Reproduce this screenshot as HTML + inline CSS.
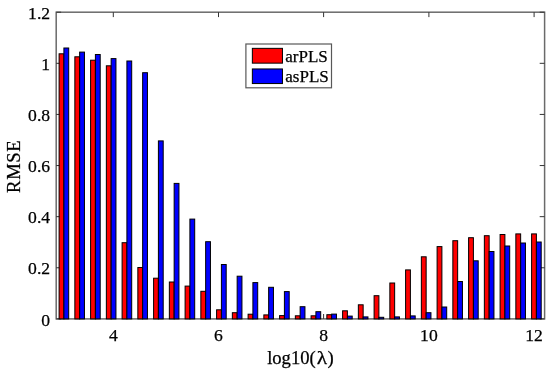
<!DOCTYPE html>
<html><head><meta charset="utf-8"><title>RMSE</title>
<style>html,body{margin:0;padding:0;background:#fff}svg{display:block}text{font-family:"Liberation Serif",serif;fill:#000;stroke:#000;stroke-width:0.25px}</style></head>
<body>
<svg width="550" height="372" viewBox="0 0 550 372">
<rect width="550" height="372" fill="#fff"/>
<g stroke="#6a6a6a" stroke-width="1.5" fill="none">
<rect x="56.2" y="12.2" width="488.4" height="306.7"/>
<path stroke="#333" stroke-width="1" d="M113.3 318.9v-4.9M113.3 12.2v4.9"/>
<path stroke="#333" stroke-width="1" d="M218.5 318.9v-4.9M218.5 12.2v4.9"/>
<path stroke="#333" stroke-width="1" d="M323.6 318.9v-4.9M323.6 12.2v4.9"/>
<path stroke="#333" stroke-width="1" d="M428.9 318.9v-4.9M428.9 12.2v4.9"/>
<path stroke="#333" stroke-width="1" d="M534.1 318.9v-4.9M534.1 12.2v4.9"/>
<path stroke="#333" stroke-width="1" d="M56.2 318.90h4.9M544.6 318.90h-4.9"/>
<path stroke="#333" stroke-width="1" d="M56.2 267.78h4.9M544.6 267.78h-4.9"/>
<path stroke="#333" stroke-width="1" d="M56.2 216.67h4.9M544.6 216.67h-4.9"/>
<path stroke="#333" stroke-width="1" d="M56.2 165.55h4.9M544.6 165.55h-4.9"/>
<path stroke="#333" stroke-width="1" d="M56.2 114.43h4.9M544.6 114.43h-4.9"/>
<path stroke="#333" stroke-width="1" d="M56.2 63.32h4.9M544.6 63.32h-4.9"/>
<path stroke="#333" stroke-width="1" d="M56.2 12.20h4.9M544.6 12.20h-4.9"/>
</g>
<g stroke="#000" stroke-width="1">
<rect x="59.10" y="53.8" width="4.8" height="265.1" fill="#f00"/>
<rect x="63.90" y="48.0" width="4.8" height="270.9" fill="#00f"/>
<rect x="74.85" y="56.8" width="4.8" height="262.1" fill="#f00"/>
<rect x="79.65" y="52.1" width="4.8" height="266.8" fill="#00f"/>
<rect x="90.60" y="60.2" width="4.8" height="258.7" fill="#f00"/>
<rect x="95.40" y="54.5" width="4.8" height="264.4" fill="#00f"/>
<rect x="106.35" y="65.8" width="4.8" height="253.1" fill="#f00"/>
<rect x="111.15" y="58.6" width="4.8" height="260.3" fill="#00f"/>
<rect x="122.10" y="242.7" width="4.8" height="76.2" fill="#f00"/>
<rect x="126.90" y="61.0" width="4.8" height="257.9" fill="#00f"/>
<rect x="137.85" y="267.5" width="4.8" height="51.4" fill="#f00"/>
<rect x="142.65" y="72.7" width="4.8" height="246.2" fill="#00f"/>
<rect x="153.60" y="278.2" width="4.8" height="40.7" fill="#f00"/>
<rect x="158.40" y="140.9" width="4.8" height="178.0" fill="#00f"/>
<rect x="169.35" y="282.0" width="4.8" height="36.9" fill="#f00"/>
<rect x="174.15" y="183.4" width="4.8" height="135.5" fill="#00f"/>
<rect x="185.10" y="286.1" width="4.8" height="32.8" fill="#f00"/>
<rect x="189.90" y="219.1" width="4.8" height="99.8" fill="#00f"/>
<rect x="200.85" y="291.3" width="4.8" height="27.6" fill="#f00"/>
<rect x="205.65" y="241.7" width="4.8" height="77.2" fill="#00f"/>
<rect x="216.60" y="309.8" width="4.8" height="9.1" fill="#f00"/>
<rect x="221.40" y="264.5" width="4.8" height="54.4" fill="#00f"/>
<rect x="232.35" y="312.7" width="4.8" height="6.2" fill="#f00"/>
<rect x="237.15" y="276.2" width="4.8" height="42.7" fill="#00f"/>
<rect x="248.10" y="314.2" width="4.8" height="4.7" fill="#f00"/>
<rect x="252.90" y="282.6" width="4.8" height="36.3" fill="#00f"/>
<rect x="263.85" y="314.9" width="4.8" height="4.0" fill="#f00"/>
<rect x="268.65" y="287.3" width="4.8" height="31.6" fill="#00f"/>
<rect x="279.60" y="315.6" width="4.8" height="3.3" fill="#f00"/>
<rect x="284.40" y="291.6" width="4.8" height="27.3" fill="#00f"/>
<rect x="295.35" y="315.8" width="4.8" height="3.1" fill="#f00"/>
<rect x="300.15" y="306.7" width="4.8" height="12.2" fill="#00f"/>
<rect x="311.10" y="315.8" width="4.8" height="3.1" fill="#f00"/>
<rect x="315.90" y="311.7" width="4.8" height="7.2" fill="#00f"/>
<rect x="326.85" y="314.7" width="4.8" height="4.2" fill="#f00"/>
<rect x="331.65" y="314.1" width="4.8" height="4.8" fill="#00f"/>
<rect x="342.60" y="310.8" width="4.8" height="8.1" fill="#f00"/>
<rect x="347.40" y="316.1" width="4.8" height="2.8" fill="#00f"/>
<rect x="358.35" y="304.8" width="4.8" height="14.1" fill="#f00"/>
<rect x="363.15" y="316.9" width="4.8" height="2.0" fill="#00f"/>
<rect x="374.10" y="295.7" width="4.8" height="23.2" fill="#f00"/>
<rect x="378.90" y="317.3" width="4.8" height="1.6" fill="#00f"/>
<rect x="389.85" y="283.0" width="4.8" height="35.9" fill="#f00"/>
<rect x="394.65" y="316.9" width="4.8" height="2.0" fill="#00f"/>
<rect x="405.60" y="269.9" width="4.8" height="49.0" fill="#f00"/>
<rect x="410.40" y="315.9" width="4.8" height="3.0" fill="#00f"/>
<rect x="421.35" y="256.8" width="4.8" height="62.1" fill="#f00"/>
<rect x="426.15" y="312.7" width="4.8" height="6.2" fill="#00f"/>
<rect x="437.10" y="246.6" width="4.8" height="72.3" fill="#f00"/>
<rect x="441.90" y="307.0" width="4.8" height="11.9" fill="#00f"/>
<rect x="452.85" y="240.7" width="4.8" height="78.2" fill="#f00"/>
<rect x="457.65" y="281.5" width="4.8" height="37.4" fill="#00f"/>
<rect x="468.60" y="237.7" width="4.8" height="81.2" fill="#f00"/>
<rect x="473.40" y="260.8" width="4.8" height="58.1" fill="#00f"/>
<rect x="484.35" y="235.7" width="4.8" height="83.2" fill="#f00"/>
<rect x="489.15" y="251.5" width="4.8" height="67.4" fill="#00f"/>
<rect x="500.10" y="234.5" width="4.8" height="84.4" fill="#f00"/>
<rect x="504.90" y="246.0" width="4.8" height="72.9" fill="#00f"/>
<rect x="515.85" y="233.9" width="4.8" height="85.0" fill="#f00"/>
<rect x="520.65" y="243.0" width="4.8" height="75.9" fill="#00f"/>
<rect x="531.60" y="233.9" width="4.8" height="85.0" fill="#f00"/>
<rect x="536.40" y="242.0" width="4.8" height="76.9" fill="#00f"/>
</g>
<g font-size="17.6">
<text x="113.3" y="341.1" text-anchor="middle">4</text>
<text x="218.5" y="341.1" text-anchor="middle">6</text>
<text x="323.6" y="341.1" text-anchor="middle">8</text>
<text x="428.9" y="341.1" text-anchor="middle">10</text>
<text x="534.1" y="341.1" text-anchor="middle">12</text>
<text x="50.1" y="325.60" text-anchor="end">0</text>
<text x="50.1" y="274.48" text-anchor="end">0.2</text>
<text x="50.1" y="223.37" text-anchor="end">0.4</text>
<text x="50.1" y="172.25" text-anchor="end">0.6</text>
<text x="50.1" y="121.13" text-anchor="end">0.8</text>
<text x="50.1" y="70.02" text-anchor="end">1</text>
<text x="50.1" y="18.90" text-anchor="end">1.2</text>
<text x="267.13" y="363.8" font-size="18.6">log10(<tspan x="316.67" textLength="10.33" lengthAdjust="spacingAndGlyphs">λ</tspan><tspan x="327.45">)</tspan></text>
<text transform="translate(19.9 166.3) rotate(-90)" text-anchor="middle" font-size="18.6" letter-spacing="0.63">RMSE</text>
</g>
<rect x="245.9" y="44" width="85.6" height="43.8" fill="#fff" stroke="#585858" stroke-width="1.2"/>
<rect x="252.35" y="48.35" width="30.1" height="14.8" fill="#f00" stroke="#000" stroke-width="1"/>
<rect x="252.35" y="68.95" width="30.1" height="14.6" fill="#00f" stroke="#000" stroke-width="1"/>
<g font-size="17">
<text x="285.3" y="62.2">arPLS</text>
<text x="285.3" y="82.4">asPLS</text>
</g>
</svg>
</body></html>
